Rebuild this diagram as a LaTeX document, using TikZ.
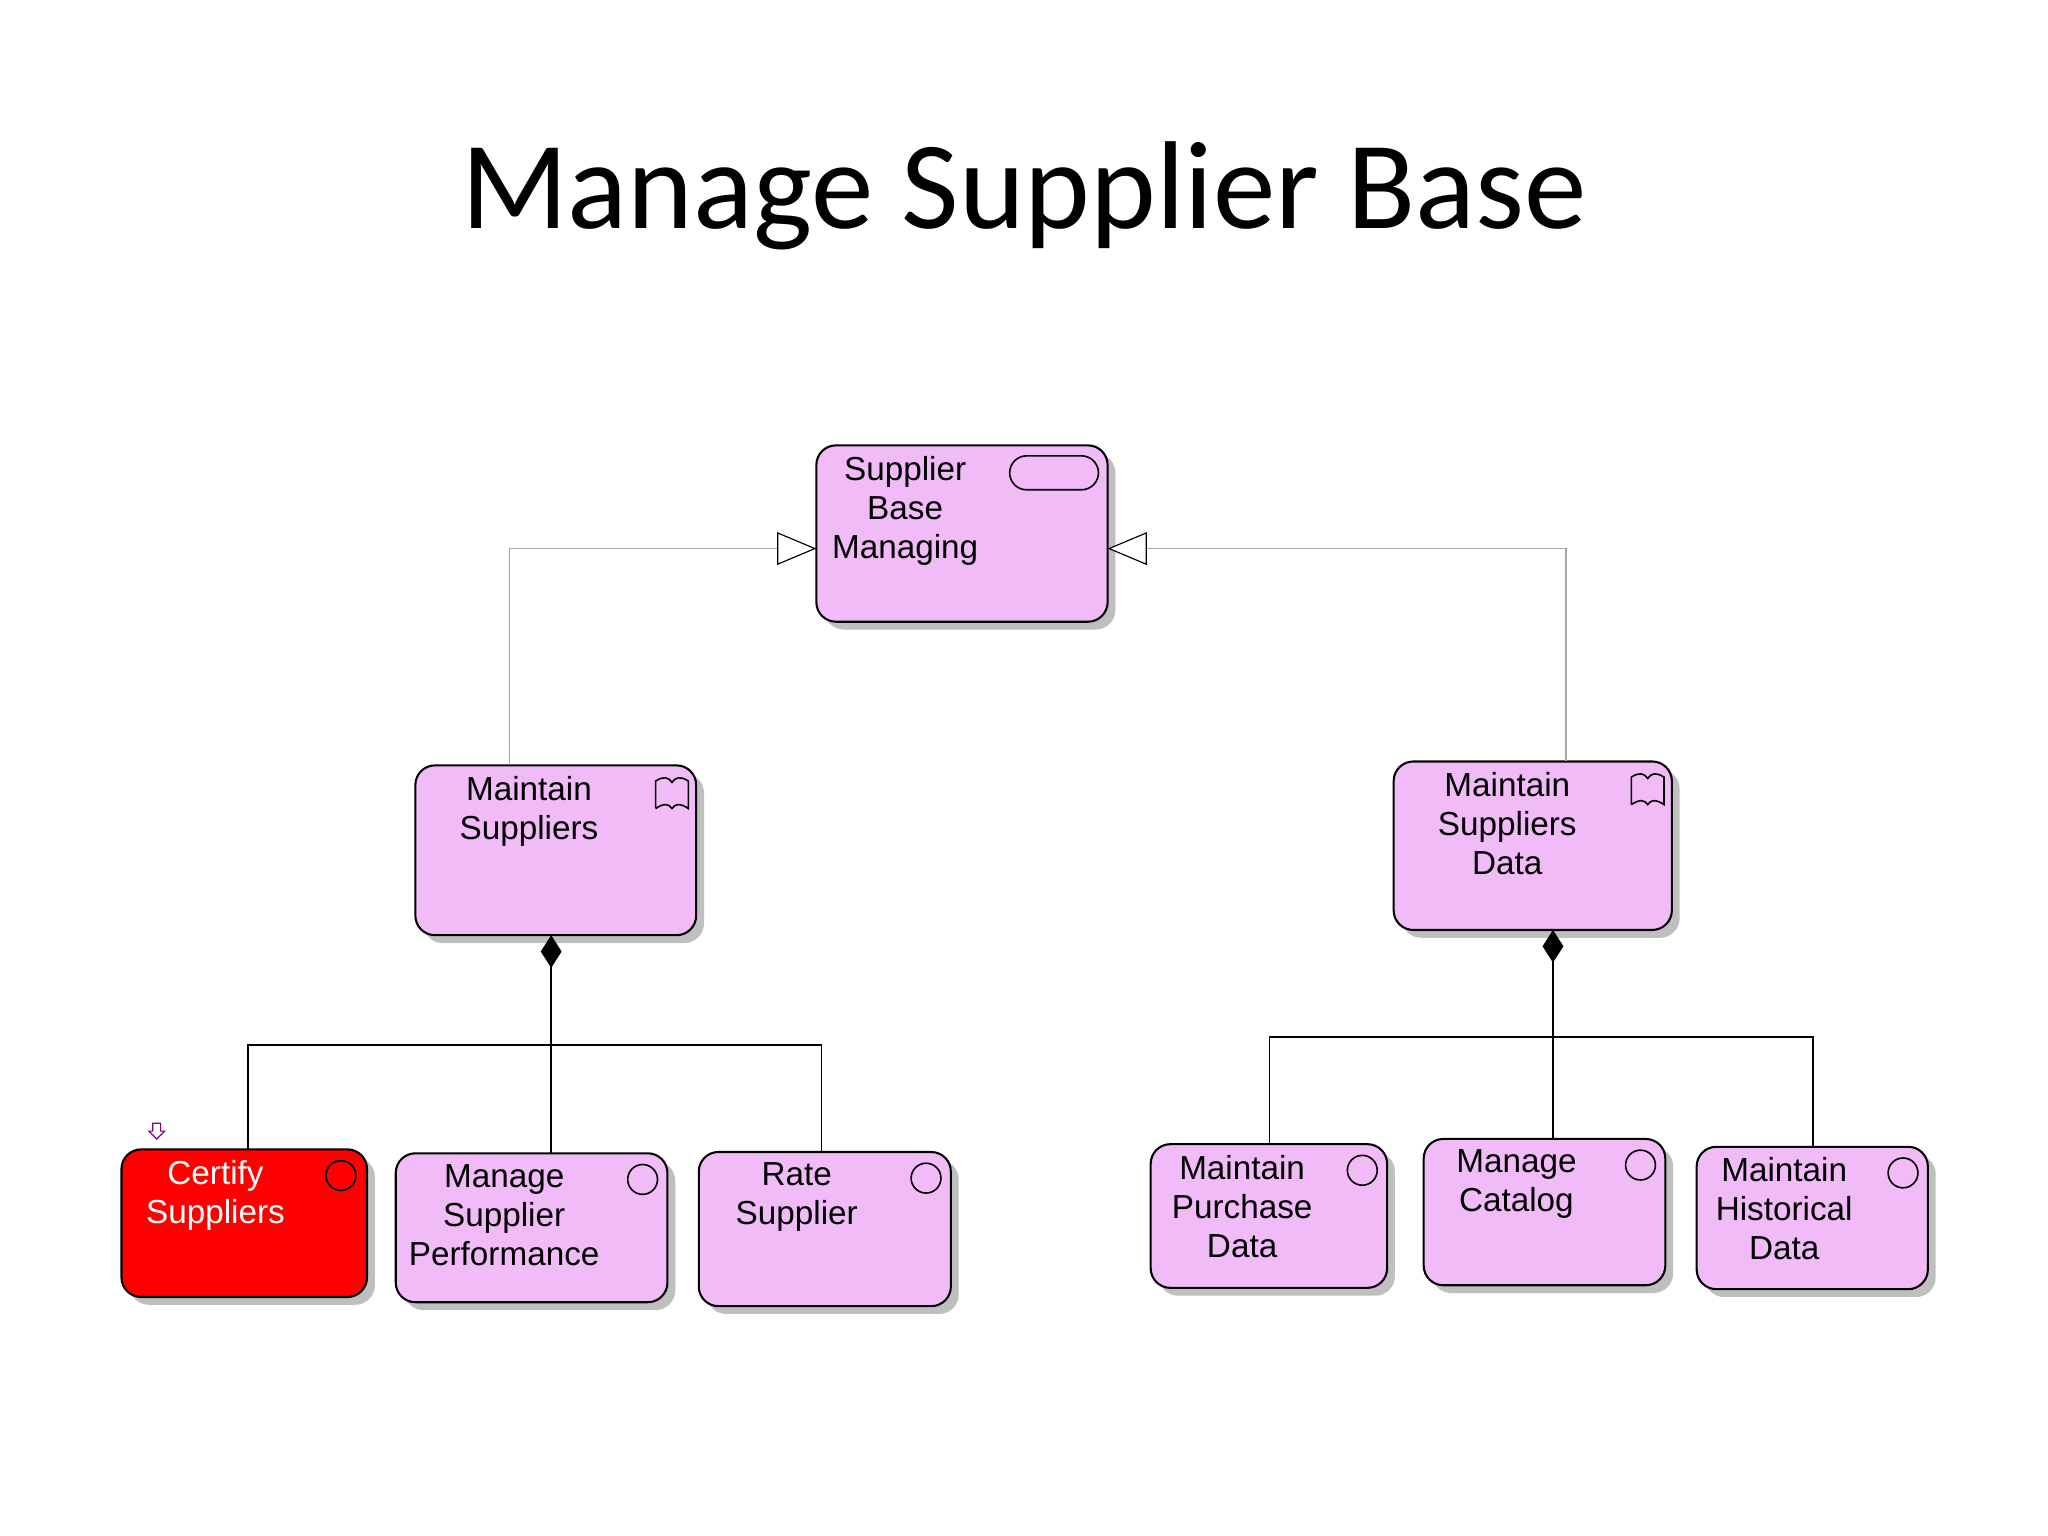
\documentclass[tikz,border=0pt]{standalone}
\usepackage{fontspec}
\setmainfont{Liberation Sans}
\newfontfamily\titlefont{Carlito}
\usetikzlibrary{arrows.meta}
\definecolor{pinkbox}{RGB}{240,187,246}
\begin{document}
\begin{tikzpicture}[x=0.02cm,y=-0.02cm,
  box/.style={draw=black,line width=0.9pt,rounded corners=0.3cm,fill=pinkbox},
  shadow/.style={fill=black!25,rounded corners=0.3cm},
  txt/.style={anchor=north,align=center,font=\fontsize{14.5}{17}\selectfont,inner sep=0pt},
  gen/.style={draw=black!35,line width=0.5pt},
  gentip/.style={-{Triangle[open,length=0.6cm,width=0.5cm,fill=white,color=black]}},
  comp/.style={draw=black,line width=0.8pt},
  icon/.style={draw=black,line width=0.7pt}]
\useasboundingbox (0,0) rectangle (1568,1176);
\node[font=\titlefont\fontsize{54.5}{60}\selectfont] (title) at (784,150) {Manage Supplier Base};
\newcommand\mkbox[6][pinkbox]{%
  \fill[shadow] (#3+6,#4+6) rectangle (#5+6,#6+6);
  \draw[box,fill=#1] (#3,#4) rectangle (#5,#6);
  \coordinate (#2-n) at ({(#3+#5)/2},#4);
  \coordinate (#2-s) at ({(#3+#5)/2},#6);
  \coordinate (#2-w) at (#3,{(#4+#6)/2});
  \coordinate (#2-e) at (#5,{(#4+#6)/2});}
\mkbox{sbm}{625}{341}{848}{476}
\mkbox{ms}{318}{586}{533}{716}
\mkbox{msd}{1067}{583}{1280}{712}
\mkbox[red]{cs}{93}{880}{281}{993}
\mkbox{msp}{303}{883}{511}{997}
\mkbox{rs}{535}{882}{728}{1000}
\mkbox{mpd}{881}{876}{1062}{986}
\mkbox{mc}{1090}{872}{1275}{984}
\mkbox{mhd}{1299}{878}{1476}{987}
\node[txt] (t-sbm) at (693,349) {Supplier\\Base\\Managing};
\node[txt] (t-ms) at (405,594) {Maintain\\Suppliers};
\node[txt] (t-msd) at (1154,591) {Maintain\\Suppliers\\Data};
\node[txt,text=white] (t-cs) at (165,888) {Certify\\Suppliers};
\node[txt] (t-msp) at (386,891) {Manage\\Supplier\\Performance};
\node[txt] (t-rs) at (610,890) {Rate\\Supplier};
\node[txt] (t-mpd) at (951,884) {Maintain\\Purchase\\Data};
\node[txt] (t-mc) at (1161,880) {Manage\\Catalog};
\node[txt] (t-mhd) at (1366,886) {Maintain\\Historical\\Data};
\draw[icon,rounded corners=0.26cm] (773,349) rectangle (841,375);
\foreach \x/\y in {502/595,1249/592}{
  \draw[icon] (\x,\y+24) -- (\x,\y+3) .. controls (\x+6,\y-1) and (\x+10,\y) .. (\x+12.5,\y+4)
     .. controls (\x+15,\y) and (\x+19,\y-1) .. (\x+25,\y+3) -- (\x+25,\y+24)
     .. controls (\x+19,\y+20) and (\x+15,\y+20) .. (\x+12.5,\y+24)
     .. controls (\x+10,\y+20) and (\x+6,\y+20) .. (\x,\y+24);}
\foreach \x/\y in {261/900,492/903,709/902,1043/896,1256/892,1457/898}
  \draw[icon] (\x,\y) circle (6.5pt);
\draw[draw=violet,line width=0.5pt] (117,860) -- (123,860) -- (123,866) -- (126,866) -- (120,872) -- (114,866) -- (117,866) -- cycle;
\coordinate (g1) at (390,420);
\coordinate (g2) at (1199,420);
\draw[gen,gentip] (ms-n -| g1) -- (g1) -- (g1 -| sbm-w);
\draw[gen,gentip] (msd-n -| g2) -- (g2) -- (g2 -| sbm-e);
\coordinate (jl) at (422,800);
\draw[comp,{Diamond[length=0.5cm,width=0.32cm]}-] (ms-s -| jl) -- (jl);
\draw[comp] (cs-n -| 190,0) -- (190,800) -- (629,800) -- (rs-n -| 629,0);
\draw[comp] (jl) -- (msp-n -| jl);
\coordinate (jr) at (1189,794);
\draw[comp,{Diamond[length=0.5cm,width=0.32cm]}-] (msd-s -| jr) -- (jr);
\draw[comp] (mpd-n -| 972,0) -- (972,794) -- (1388,794) -- (mhd-n -| 1388,0);
\draw[comp] (jr) -- (mc-n -| jr);
\end{tikzpicture}
\end{document}
